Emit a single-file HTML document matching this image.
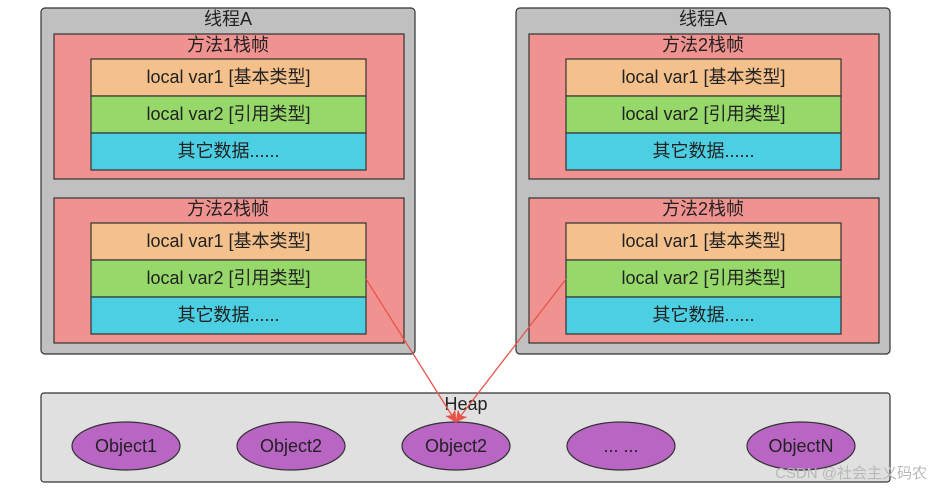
<!DOCTYPE html>
<html><head><meta charset="utf-8"><style>
html,body{margin:0;padding:0;background:#fff;width:930px;height:490px;overflow:hidden}
text{font-family:"Liberation Sans","Noto Sans CJK SC",sans-serif;fill:#222}
</style></head><body>
<svg width="930" height="490" xmlns="http://www.w3.org/2000/svg">
<defs>
<marker id="ar" markerWidth="12" markerHeight="12" refX="11" refY="6" orient="auto" markerUnits="userSpaceOnUse">
<path d="M0,0 L12,6 L0,12 L3,6 z" fill="#e8534a"/></marker>
<g id="frame">
<rect x="0" y="0" width="350" height="145" fill="#f09390" stroke="#333" stroke-width="1.2"/>
<rect x="37" y="25" width="275" height="37" fill="#f4c08c" stroke="#333" stroke-width="1.2"/>
<rect x="37" y="62" width="275" height="37" fill="#96d96a" stroke="#333" stroke-width="1.2"/>
<rect x="37" y="99" width="275" height="37" fill="#4ccfe2" stroke="#333" stroke-width="1.2"/>
<text x="174.5" y="49" font-size="18" text-anchor="middle">local var1 [基本类型]</text>
<text x="174.5" y="86" font-size="18" text-anchor="middle">local var2 [引用类型]</text>
<text x="174.5" y="123" font-size="18" text-anchor="middle">其它数据......</text>
</g>
</defs>
<g>
<rect x="41" y="8" width="374" height="346" rx="4" fill="#c0c0c0" stroke="#333" stroke-width="1.2"/>
<text x="228" y="25" font-size="18" text-anchor="middle">线程A</text>
<use href="#frame" x="54" y="34"/>
<text x="228" y="51" font-size="18" text-anchor="middle">方法1栈帧</text>
<use href="#frame" x="54" y="198"/>
<text x="228" y="215" font-size="18" text-anchor="middle">方法2栈帧</text>
</g>
<g>
<rect x="516" y="8" width="374" height="346" rx="4" fill="#c0c0c0" stroke="#333" stroke-width="1.2"/>
<text x="703" y="25" font-size="18" text-anchor="middle">线程A</text>
<use href="#frame" x="529" y="34"/>
<text x="703" y="51" font-size="18" text-anchor="middle">方法2栈帧</text>
<use href="#frame" x="529" y="198"/>
<text x="703" y="215" font-size="18" text-anchor="middle">方法2栈帧</text>
</g>
<rect x="41" y="393" width="849" height="89" rx="3" fill="#e0e0e0" stroke="#333" stroke-width="1.2"/>
<text x="466" y="410" font-size="18" text-anchor="middle">Heap</text>
<g stroke="#333" stroke-width="1.2" fill="#b865c4">
<ellipse cx="126" cy="446" rx="54" ry="24"/>
<ellipse cx="291" cy="446" rx="54" ry="24"/>
<ellipse cx="456" cy="446" rx="54" ry="24"/>
<ellipse cx="621" cy="446" rx="54" ry="24"/>
<ellipse cx="801" cy="446" rx="54" ry="24"/>
</g>
<g font-size="18" text-anchor="middle">
<text x="126" y="452">Object1</text>
<text x="291" y="452">Object2</text>
<text x="456" y="452">Object2</text>
<text x="621" y="452">... ...</text>
<text x="801" y="452">ObjectN</text>
</g>
<line x1="366" y1="279" x2="456" y2="422" stroke="#e8534a" stroke-width="1.3" marker-end="url(#ar)"/>
<line x1="566" y1="279" x2="456" y2="422" stroke="#e8534a" stroke-width="1.3" marker-end="url(#ar)"/>
<text x="927" y="478" font-size="15" text-anchor="end" style="fill:#b8b8b8">CSDN @社会主义码农</text>
</svg>
</body></html>
